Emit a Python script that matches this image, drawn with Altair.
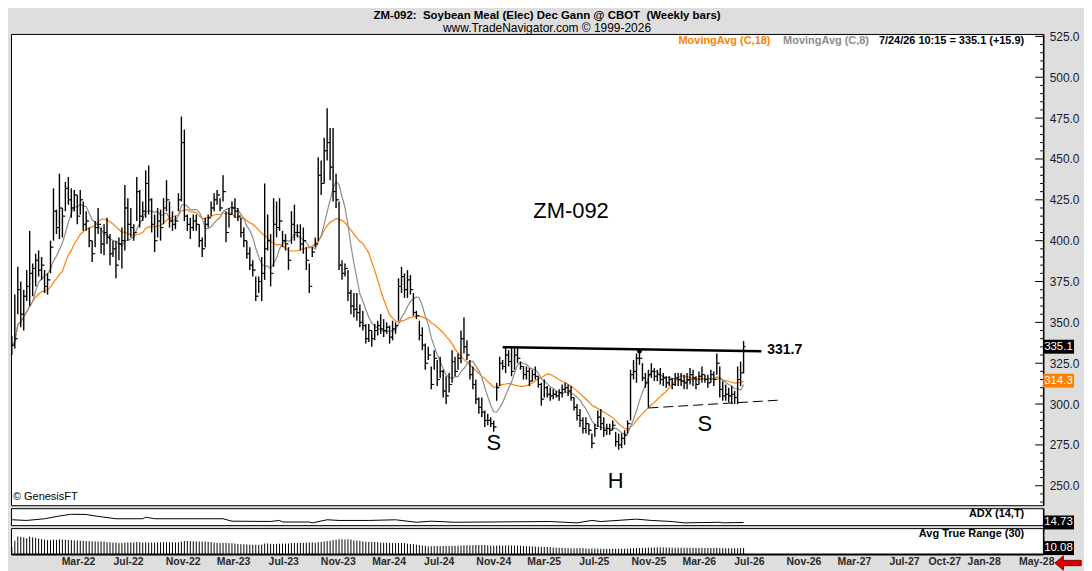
import altair as alt
import pandas as pd

FONT = "Liberation Sans"
FIRST_BAR = "2021-11-05"   # Friday of first weekly bar

highs = [
    342, 367, 384, 375, 370, 382, 406, 386, 392, 394,
    390, 382, 380, 400, 432, 419, 441, 420, 436, 439,
    432, 431, 428, 431, 424, 418, 408, 400, 412, 420,
    408, 410, 414, 404, 400, 400, 402, 408, 434, 426,
    420, 410, 439, 431, 424, 443, 446, 426, 416, 420,
    419, 426, 437, 424, 418, 415, 429, 476, 468, 416,
    414, 416, 416, 410, 402, 414, 416, 424, 429, 431,
    426, 440, 418, 420, 424, 426, 420, 414, 408, 400,
    396, 388, 378, 378, 390, 435, 416, 404, 426, 424,
    426, 406, 404, 396, 418, 422, 410, 410, 408, 396,
    386, 396, 402, 451, 449, 463, 481, 469, 469, 441,
    424, 388, 386, 382, 370, 368, 368, 361, 357, 349,
    349, 345, 349, 351, 355, 352, 350, 348, 351, 350,
    377, 384, 380, 382, 379, 368, 357, 351, 347, 337,
    335, 323, 333, 327, 329, 321, 317, 319, 333, 329,
    331, 345, 353, 339, 327, 323, 315, 304, 304, 296,
    294, 292, 290, 313, 329, 327, 335, 333, 335, 334,
    335, 326, 323, 323, 322, 321, 323, 317, 313, 315,
    311, 310, 309, 308, 309, 312, 313, 312, 311, 304,
    300, 297, 292, 292, 288, 282, 288, 296, 297, 292,
    288, 288, 290, 283, 282, 282, 284, 290, 321, 327,
    331, 332, 325, 319, 321, 325, 322, 321, 322, 319,
    317, 317, 316, 319, 319, 319, 318, 319, 322, 321,
    317, 320, 323, 318, 318, 321, 320, 331, 323, 314,
    312, 310, 311, 308, 323, 326, 338.5,
]
lows = [
    330, 334, 355, 347, 345, 363, 360, 366, 372, 378,
    376, 368, 367, 380, 400, 404, 401, 402, 418, 422,
    414, 418, 410, 416, 406, 406, 396, 387, 396, 404,
    392, 391, 398, 385, 390, 377, 388, 383, 394, 400,
    402, 400, 412, 408, 412, 414, 416, 405, 393, 402,
    400, 410, 418, 408, 406, 407, 418, 424, 412, 406,
    401, 406, 406, 396, 390, 396, 408, 415, 418, 422,
    418, 424, 399, 408, 416, 414, 412, 402, 396, 389,
    382, 378, 363, 368, 363, 376, 394, 372, 384, 402,
    406, 396, 394, 382, 398, 400, 402, 394, 392, 382,
    368, 390, 396, 400, 428, 435, 449, 437, 424, 420,
    382, 376, 378, 363, 355, 353, 351, 347, 345, 337,
    338, 335, 339, 342, 343, 341, 343, 337, 339, 343,
    351, 368, 365, 365, 367, 354, 352, 339, 333, 321,
    327, 309, 321, 311, 316, 304, 300, 307, 313, 317,
    321, 325, 331, 327, 315, 309, 300, 294, 292, 286,
    287, 286, 283, 302, 311, 321, 319, 323, 317, 321,
    325, 321, 315, 315, 311, 314, 315, 310, 299, 304,
    304, 302, 303, 304, 302, 304, 307, 305, 302, 296,
    290, 286, 282, 282, 281, 273, 280, 286, 284, 280,
    281, 281, 284, 274, 272, 273, 275, 282, 290, 315,
    313, 324, 314, 310, 298, 316, 314, 314, 312, 311,
    310, 311, 309, 311, 311, 311, 309, 309, 312, 311,
    309, 312, 313, 313, 310, 313, 311, 318, 304, 302,
    302, 301, 300, 300, 300, 311, 318.7,
]
closes = [
    336, 340, 370, 355, 366, 372, 380, 383, 388, 382,
    385, 372, 376, 396, 418, 408, 420, 415, 432, 425,
    420, 428, 415, 425, 410, 412, 400, 392, 408, 410,
    398, 405, 402, 392, 395, 385, 398, 400, 420, 410,
    408, 405, 430, 415, 418, 435, 425, 410, 400, 412,
    408, 420, 425, 412, 410, 412, 425, 460, 415, 410,
    408, 412, 410, 400, 395, 410, 414, 420, 425, 428,
    420, 430, 405, 416, 420, 418, 415, 405, 400, 392,
    385, 382, 366, 375, 380, 395, 400, 380, 410, 408,
    412, 400, 398, 388, 410, 405, 405, 398, 400, 388,
    372, 393, 398, 440, 435, 455, 460, 445, 430, 425,
    385, 380, 383, 368, 360, 358, 356, 350, 348, 340,
    345, 340, 345, 348, 346, 345, 347, 341, 346, 348,
    372, 378, 370, 376, 370, 356, 354, 342, 336, 325,
    330, 312, 328, 315, 320, 308, 305, 312, 326, 320,
    328, 340, 335, 330, 318, 312, 303, 298, 295, 290,
    290, 288, 286, 310, 325, 323, 330, 326, 320, 330,
    328, 323, 318, 320, 314, 318, 317, 312, 303, 310,
    306, 305, 306, 305, 307, 309, 310, 308, 304, 298,
    293, 290, 285, 288, 284, 276, 285, 292, 288, 284,
    285, 284, 287, 277, 275, 279, 281, 288, 318, 320,
    328, 328, 316, 313, 318, 320, 317, 318, 315, 316,
    313, 315, 312, 316, 315, 314, 313, 315, 318, 316,
    312, 317, 318, 315, 313, 318, 315, 325, 309, 305,
    306, 305, 306, 304, 315, 319.2, 335.1,
]

# ADX (14,T) read at selected weeks (week index, value)
adx_weeks = [0, 5, 11, 16, 20, 25, 29, 35, 44, 45, 48, 71, 74, 87, 90, 91, 100, 101,
             106, 110, 120, 129, 136, 141, 149, 181, 190, 195, 198, 210, 215, 222,
             226, 238, 239, 246]
adx_values = [19.5, 18.3, 21.3, 26.2, 29.2, 28.8, 25.5, 21.3, 21.3, 24.0, 21.3, 21.3,
              17.0, 16.5, 18.3, 15.5, 15.5, 14.0, 19.5, 18.3, 18.3, 19.5, 15.1, 17.0,
              15.1, 16.4, 14.0, 18.3, 16.4, 20.6, 18.3, 16.4, 14.0, 15.1, 14.0, 14.73]

tick_months = [(2022, 3), (2022, 7), (2022, 11), (2023, 3), (2023, 7), (2023, 11),
               (2024, 3), (2024, 7), (2024, 11), (2025, 3), (2025, 7), (2025, 11),
               (2026, 3), (2026, 7), (2026, 11), (2027, 3), (2027, 7), (2027, 10),
               (2028, 1), (2028, 5)]
price_ticks = [250, 275, 300, 325, 350, 375, 400, 425, 450, 475, 500, 525]
minor_ticks = [p for p in range(240, 530, 5) if p % 25 != 0]

# annotations (week index, price)
neck_weeks, neck_prices = [165, 252], [334.8, 332.3]
dash_weeks, dash_prices = [214, 258], [297.6, 302.4]
touch_week, touch_price = 211, 332.3
label_texts = ["ZM-092", "S", "H", "S"]
label_weeks = [188, 162, 203, 233]
label_prices = [418.3, 276.2, 253.0, 287.8]
level_text, level_week, level_price = "331.7", 254, 333.0
last_close, ma18_last, adx_last, atr_last = 335.1, 314.3, 14.73, 10.08

title_line1 = "ZM-092:\u00a0 Soybean Meal (Elec) Dec Gann @ CBOT\u00a0 (Weekly bars)"
title_line2 = "www.TradeNavigator.com © 1999-2026"


def wk(k):
    return (pd.Timestamp(FIRST_BAR) + pd.Timedelta(weeks=k)).strftime("%Y-%m-%d")


df = pd.DataFrame({"date": [wk(i) for i in range(len(closes))],
                   "high": highs, "low": lows, "close": closes})
df["open"] = df["close"].shift(1)

W, HM, HA, HT = 1036, 473, 17, 26
xs = alt.Scale(domain=[alt.DateTime(year=2021, month=11, date=3),
                       alt.DateTime(year=2028, month=6, date=28)])
ys = alt.Scale(domain=[238.1, 526.5], nice=False, zero=False)
yaxis = alt.Axis(orient="right", values=price_ticks, format=".1f", title=None,
                 ticks=False, labelPadding=6, labelFontSize=12, labelColor="#1a1a33",
                 domainColor="black", domainWidth=1.5, grid=False, labelFont=FONT)
X = lambda f="date:T": alt.X(f, scale=xs, axis=None)
Y = lambda f: alt.Y(f, scale=ys, axis=yaxis)

base = alt.Chart(df)
hl = base.mark_rule(color="black", strokeWidth=1.4).encode(x=X(), y=Y("low:Q"), y2="high:Q")
op = base.transform_filter("isValid(datum.open)").mark_rule(
    color="black", strokeWidth=1, xOffset=-2).encode(x=X(), x2="date:T", y=Y("open:Q"))
cl = base.mark_rule(color="black", strokeWidth=1, x2Offset=2).encode(
    x=X(), x2="date:T", y=Y("close:Q"))
ma18 = base.transform_window(ma18="mean(close)", frame=[-17, 0],
                             sort=[alt.SortField("date")]).mark_line(
    color="#ff8000", strokeWidth=1.2).encode(x=X(), y=Y("ma18:Q"))
ma8 = base.transform_window(ma8="mean(close)", frame=[-7, 0],
                            sort=[alt.SortField("date")]).mark_line(
    color="#8c8c8c", strokeWidth=1.2).encode(x=X(), y=Y("ma8:Q"))

neck = alt.Chart(pd.DataFrame({"date": [wk(k) for k in neck_weeks], "p": neck_prices})).mark_line(
    color="black", strokeWidth=2.5).encode(x=X(), y=Y("p:Q"))
dash = alt.Chart(pd.DataFrame({"date": [wk(k) for k in dash_weeks], "p": dash_prices})).mark_line(
    color="black", strokeWidth=1, strokeDash=[10, 5]).encode(x=X(), y=Y("p:Q"))
dot = alt.Chart(pd.DataFrame({"date": [wk(touch_week)], "p": [touch_price]})).mark_point(
    filled=True, color="black", size=22, opacity=1).encode(x=X(), y=Y("p:Q"))
labels = alt.Chart(pd.DataFrame({"date": [wk(k) for k in label_weeks], "p": label_prices,
                                 "t": label_texts})).mark_text(
    fontSize=22, font=FONT, color="black").encode(x=X(), y=Y("p:Q"), text="t:N")
level = alt.Chart(pd.DataFrame({"date": [wk(level_week)], "p": [level_price],
                                "t": [level_text]})).mark_text(
    fontSize=14, font=FONT, fontWeight="bold", align="left", color="black").encode(
    x=X(), y=Y("p:Q"), text="t:N")

one = pd.DataFrame({"k": [0]})


def ptext(text, x, y, color="black", align="left", weight="bold", size=11):
    return alt.Chart(one).mark_text(text=text, align=align, baseline="middle", font=FONT,
                                    fontSize=size, fontWeight=weight, color=color).encode(
        x=alt.value(x), y=alt.value(y))


head1 = ptext(title_line1, 538, -18, align="center", size=11.5)
head2 = ptext(title_line2, 538, -6, align="center", weight="normal", size=12)
leg1 = ptext("MovingAvg (C,18)", 670, 7, color="#ff8000")
leg2 = ptext("MovingAvg (C,8)", 775, 7, color="#8c8c8c")
leg3 = ptext("7/24/26 10:15 = 335.1 (+15.9)", 1017, 7, align="right")
copy = ptext("© GenesisFT", 2, HM - 8, weight="normal")

tickdf = pd.DataFrame({"p": price_ticks})
majt = alt.Chart(tickdf).mark_rule(color="black", strokeWidth=1).encode(
    x=alt.value(W - 8), x2=alt.value(W), y=Y("p:Q"))
mint = alt.Chart(pd.DataFrame({"p": minor_ticks})).mark_rule(color="black", strokeWidth=1).encode(
    x=alt.value(W - 3), x2=alt.value(W), y=Y("p:Q"))


def box(value, text, scale, axis, bg, fg):
    d = pd.DataFrame({"v": [value]})
    yy = alt.Y("v:Q", scale=scale, axis=axis)
    r = alt.Chart(d).mark_rule(color=bg, strokeWidth=14).encode(
        x=alt.value(W), x2=alt.value(W + 31), y=yy)
    t = alt.Chart(d).mark_text(text=text, color=fg, align="left", baseline="middle",
                               font=FONT, fontSize=11.5).encode(x=alt.value(W + 1), y=yy)
    return r + t


box1 = box(last_close, "335.1", ys, yaxis, "black", "white")
box2 = box(ma18_last, "314.3", ys, yaxis, "#ff8000", "white")

main = alt.layer(majt, mint, ma18, ma8, hl, op, cl, neck, dash, dot, labels, level,
                 head1, head2, leg1, leg2, leg3, copy, box1, box2).properties(width=W, height=HM)

# ADX panel
adx_s = alt.Scale(domain=[10, 40], nice=False, zero=False)
adx_ax = alt.Axis(orient="right", labels=False, ticks=False, title=None, grid=False,
                  domainColor="black", domainWidth=1.5)
adx_df = pd.DataFrame({"date": [wk(k) for k in adx_weeks], "adx": adx_values})
adx_line = alt.Chart(adx_df).mark_line(color="black", strokeWidth=1).encode(
    x=X(), y=alt.Y("adx:Q", scale=adx_s, axis=adx_ax))
adx_lbl = ptext("ADX (14,T)", 1017, 6, align="right")
adx_box = box(adx_last, "14.73", adx_s, adx_ax, "black", "white")
adx = alt.layer(adx_line, adx_lbl, adx_box).properties(width=W, height=HA)

# ATR panel
atr_s = alt.Scale(domain=[0, 44], nice=False)
atr_ax = alt.Axis(orient="right", labels=False, ticks=False, title=None, grid=False,
                  domainColor="black", domainWidth=1.5)
xaxis = alt.Axis(values=[alt.DateTime(year=y, month=m, date=1) for y, m in tick_months],
                 format="%b-%y", labelAlign="left", labelFlush=False, labelFont=FONT,
                 labelFontSize=10.5, labelFontWeight="bold", labelColor="#2a2a2a",
                 ticks=False, labelPadding=3, domainColor="black", domainWidth=2,
                 grid=False, title=None, labelOverlap=False)
atr_bars = base.transform_window(prevc="lag(close)", sort=[alt.SortField("date")]).transform_calculate(
    tr="isValid(datum.prevc) ? max(datum.high, datum.prevc) - min(datum.low, datum.prevc) : datum.high - datum.low"
).transform_window(atr="mean(tr)", frame=[-29, 0], sort=[alt.SortField("date")]).mark_rule(
    color="black", strokeWidth=1).encode(
    x=alt.X("date:T", scale=xs, axis=xaxis),
    y=alt.Y("atr:Q", scale=atr_s, axis=atr_ax), y2=alt.datum(0))
atr_lbl = ptext("Avg True Range (30)", 1017, 6, align="right")
atr_box = box(atr_last, "10.08", atr_s, atr_ax, "black", "white")
arrow = alt.Chart(one).mark_point(
    shape="M-1,0L-0.35,-0.55L-0.35,-0.2L1,-0.2L1,0.2L-0.35,0.2L-0.35,0.55Z",
    filled=True, color="#e00000", stroke="#600000", strokeWidth=0.8, size=700, opacity=1).encode(
    x=alt.value(W + 25), y=alt.value(HT + 9))
atr = alt.layer(atr_bars, atr_lbl, atr_box, arrow).properties(width=W, height=HT)

chart = alt.vconcat(main, adx, atr, spacing=3, bounds="flush").properties(
    padding=0, background="#dedede",
).configure_view(fill="white", stroke="black", strokeWidth=1)

chart.save("out.html", embed_options={"renderer": "svg", "actions": False})
